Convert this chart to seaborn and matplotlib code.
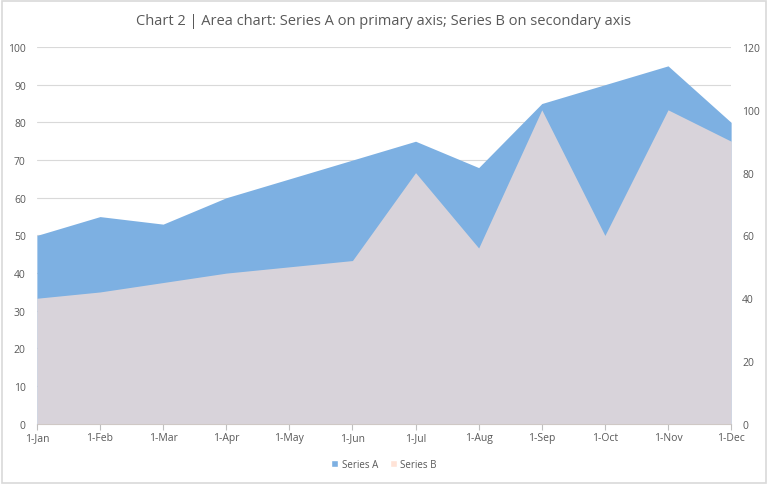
import numpy as np
import matplotlib.pyplot as plt
import seaborn as sns
from matplotlib.patches import Rectangle, Patch

# ---- data ----
months = ["1-Jan", "1-Feb", "1-Mar", "1-Apr", "1-May", "1-Jun",
          "1-Jul", "1-Aug", "1-Sep", "1-Oct", "1-Nov", "1-Dec"]
series_a = [50, 55, 53, 60, 65, 70, 75, 68, 85, 90, 95, 80]
series_b = [40, 42, 45, 48, 50, 52, 80, 56, 100, 60, 100, 90]

# ---- style ----
sns.set_theme(style="white")
plt.rcParams['font.family'] = ['Open Sans', 'DejaVu Sans']
txt = '#595959'
col_a = '#7DB0E2'
col_b = '#FFE3D7'

fig = plt.figure(figsize=(7.68, 4.85), dpi=100)
ax = fig.add_axes([0.048, 0.124, 0.904, 0.777])
ax2 = ax.twinx()

x = np.arange(len(months))

# series A on primary axis
ax.fill_between(x, 0, series_a, color=col_a, linewidth=0, zorder=2)
ax.set_ylim(0, 100)
ax.set_yticks(range(0, 101, 10))
ax.set_xlim(0, len(months) - 1)
ax.set_xticks(x)
ax.set_xticklabels(months)
ax.grid(axis='y', color='#D9D9D9', linewidth=0.8, zorder=0)
ax.set_axisbelow(True)

# series B on secondary axis (drawn on top, semi-transparent)
ax2.fill_between(x, 0, series_b, color=col_b, alpha=0.7, linewidth=0, zorder=2)
ax2.set_ylim(0, 120)
ax2.set_yticks(range(0, 121, 20))

for a in (ax, ax2):
    for s in a.spines.values():
        s.set_visible(False)
    a.tick_params(axis='y', length=0, labelsize=7.5, colors=txt, pad=8)
ax.spines['bottom'].set_visible(True)
ax.spines['bottom'].set_color('#BFBFBF')
ax.spines['bottom'].set_linewidth(0.8)
ax.tick_params(axis='x', length=4, width=0.8, color='#BFBFBF',
               labelsize=7.5, labelcolor=txt, pad=2, bottom=True)

fig.suptitle("Chart 2 | Area chart: Series A on primary axis; Series B on secondary axis",
             x=0.5, y=0.972, fontsize=10.5, color=txt)

handles = [Patch(facecolor=col_a, label="Series A"),
           Patch(facecolor=col_b, label="Series B")]
fig.legend(handles=handles, loc='center', bbox_to_anchor=(0.5, 0.04), ncol=2,
           frameon=False, fontsize=7, labelcolor=txt, handlelength=0.7,
           handleheight=0.7, columnspacing=1.2, handletextpad=0.4)

fig.patches.append(Rectangle((0.002, 0.003), 0.995, 0.993, transform=fig.transFigure,
                             fill=False, edgecolor='#D9D9D9', linewidth=1.2))

fig.savefig("out.png", dpi=100)
